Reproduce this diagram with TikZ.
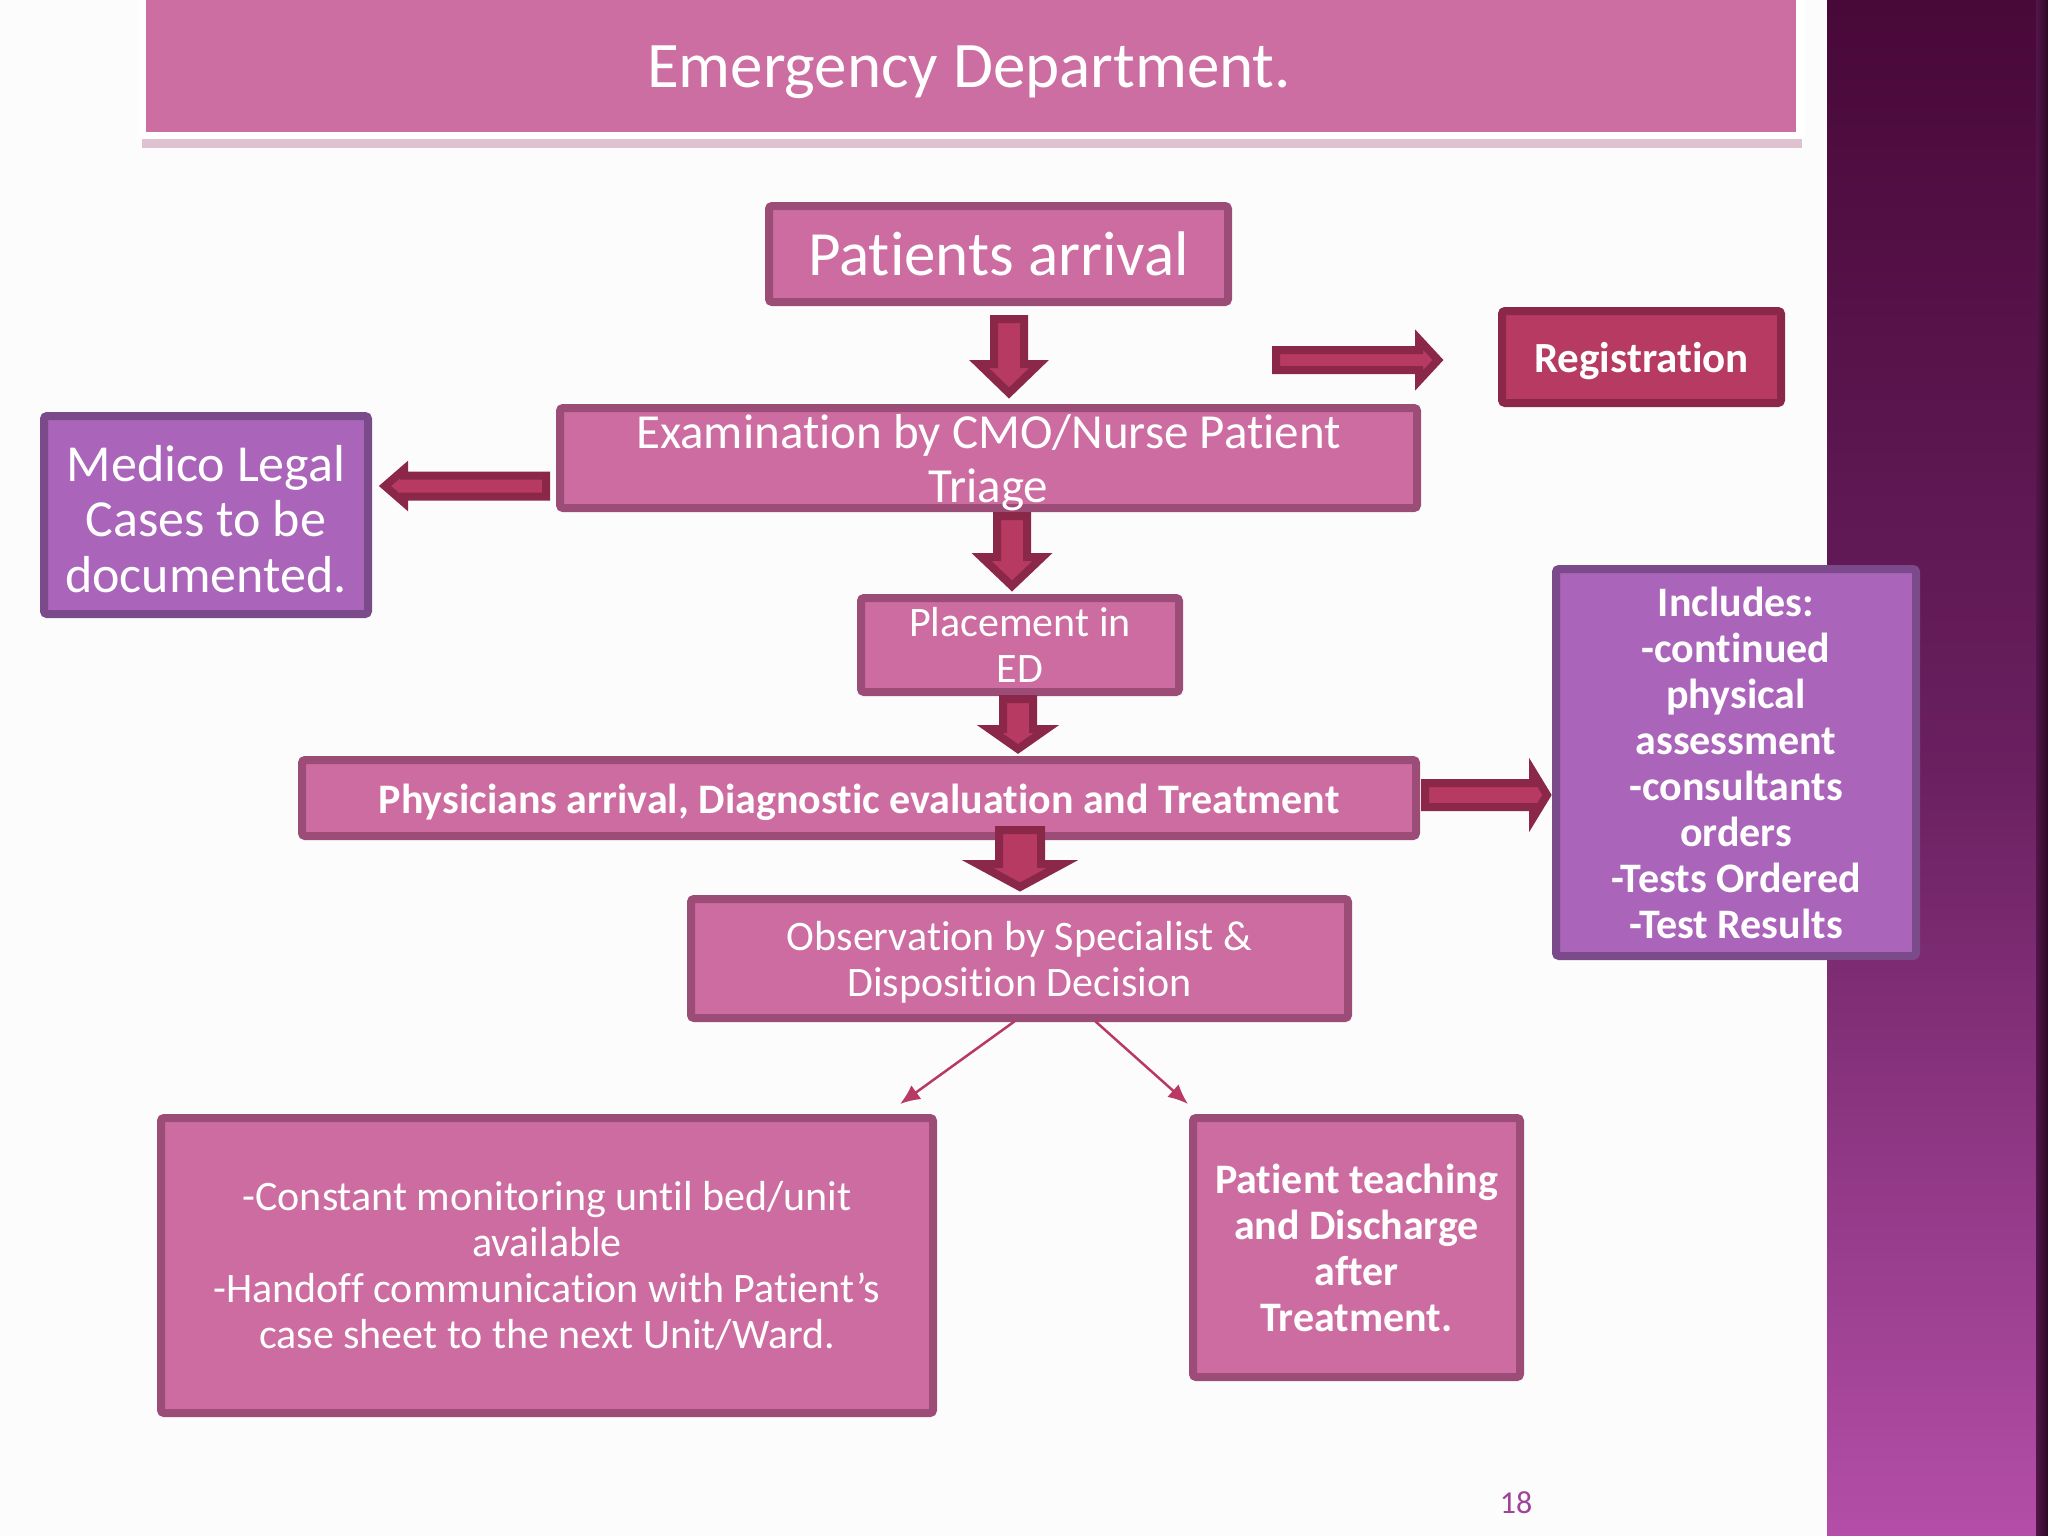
\documentclass[tikz,border=0pt]{standalone}
\usepackage{fontspec}
\setmainfont{Carlito}[RawFeature={-liga;-clig;-calt;-rlig;-dlig}]
\usetikzlibrary{arrows.meta,calc}
\definecolor{pinkF}{RGB}{205,108,160}
\definecolor{pinkB}{RGB}{155,77,120}
\definecolor{purpF}{RGB}{170,100,185}
\definecolor{purpB}{RGB}{122,74,138}
\definecolor{regF}{RGB}{183,58,98}
\definecolor{regB}{RGB}{139,40,74}
\definecolor{arrF}{RGB}{183,58,98}
\definecolor{arrB}{RGB}{139,40,74}
\definecolor{titleF}{RGB}{204,110,162}
\definecolor{thinA}{RGB}{184,58,100}
\definecolor{bandTop}{RGB}{72,8,56}
\definecolor{bandMid}{RGB}{106,32,96}
\definecolor{bandBot}{RGB}{180,78,168}
\definecolor{bandEdge}{RGB}{45,8,38}
\definecolor{pageNum}{RGB}{160,68,154}
\definecolor{shadowC}{RGB}{222,194,208}
\definecolor{slideW}{RGB}{253,252,253}
\newcommand\fsz[2]{\fontsize{#1}{#2}\selectfont}
% #1 tail coordinate, #2 rotation, #3 outer length, #4 outer shaft, #5 outer head width, #6 outer head length
\newcommand\blkarrow[6]{%
  \begin{scope}[shift={(#1)},rotate=#2]
    \draw[blockarr] (4,{-(#4-8)/2}) -- ({#3-#6+4},{-(#4-8)/2}) -- ({#3-#6+4},{-(#5-19)/2})
      -- ({#3-6},0) -- ({#3-#6+4},{(#5-19)/2}) -- ({#3-#6+4},{(#4-8)/2}) -- (4,{(#4-8)/2}) -- cycle;
  \end{scope}}
\begin{document}
\begin{tikzpicture}[x=1pt,y=-1pt,
  box/.style={line width=8pt, rounded corners=3pt, inner sep=0pt, align=center, text=white},
  pinkbox/.style={box, draw=pinkB, fill=pinkF},
  purpbox/.style={box, draw=purpB, fill=purpF},
  regbox/.style={box, draw=regB, fill=regF},
  boxtext/.style={inner sep=0pt, align=center, text=white},
  blockarr/.style={draw=arrB, fill=arrF, line width=8pt, line join=miter, miter limit=10},
  thinarr/.style={draw=thinA, line width=2.5pt, -{Latex[length=20pt,width=17pt]}},
  body/.style={font=\fsz{42}{46}},
  bodyb/.style={font=\fsz{42}{46}\bfseries},
]
\useasboundingbox (0,0) rectangle (2048,1536);
\fill[slideW] (0,0) rectangle (2048,1536);
% right band
\shade[top color=bandTop, bottom color=bandBot, middle color=bandMid] (1827,0) rectangle (2048,1536);
\shade[left color=bandMid!60!bandEdge, right color=bandEdge] (2036,0) rectangle (2048,1536);
% title banner
\fill[shadowC] (142,139) rectangle (1802,148);
\fill[white] (138,-5) rectangle (1805,139);
\fill[titleF] (146,-5) rectangle (1796,132);
\node[anchor=base, text=white, font=\fsz{65}{70}] (title) at (969,88) {Emergency Department.};

% boxes
\node[pinkbox, minimum width=459, minimum height=96, font=\fsz{63}{68}] (arrival) at (998.5,254) {Patients arrival};
\node[regbox, minimum width=279, minimum height=92] (reg) at (1641.5,357) {};
\node[boxtext, font=\fsz{43}{46}\bfseries] (regT) at ($(reg.center)+(0,4)$) {Registration};
\node[pinkbox, minimum width=857, minimum height=100] (exam) at (988.5,458) {};
\node[boxtext, font=\fsz{49}{54}] (examT) at ($(exam.center)+(0,5)$) {Examination by CMO/Nurse Patient\\Triage};
\node[purpbox, minimum width=324, minimum height=198] (medico) at (206,515) {};
\node[boxtext, font=\fsz{52}{55.5}] (medicoT) at ($(medico.center)+(0,4)$) {Medico Legal\\Cases to be\\documented.};
\node[pinkbox, minimum width=318, minimum height=94, body] (place) at (1020,645) {Placement in\\ED};
\node[pinkbox, minimum width=1114, minimum height=76] (phys) at (859,798) {};
\node[boxtext, bodyb] (physT) at ($(phys.center)+(0,4)$) {Physicians arrival, Diagnostic evaluation and Treatment};
\node[purpbox, minimum width=360, minimum height=387, bodyb] (incl) at (1736,762.5) {Includes:\\-continued\\physical\\assessment\\-consultants\\orders\\-Tests Ordered\\-Test Results};
\node[pinkbox, minimum width=657, minimum height=119] (obs) at (1019.5,958.5) {};
\node[boxtext, body] (obsT) at ($(obs.center)+(0,4)$) {Observation by Specialist \&\\Disposition Decision};
\node[pinkbox, minimum width=772, minimum height=295, body] (mon) at (547,1265.5) {-Constant monitoring until bed/unit\\available\\-Handoff communication with Patient’s\\case sheet to the next Unit/Ward.};
\node[pinkbox, minimum width=327, minimum height=259, bodyb] (teach) at (1356.5,1247.5) {Patient teaching\\and Discharge\\after\\Treatment.};

% block arrows
\coordinate (a1) at (1009,315);
\coordinate (a2) at (1012,512);
\coordinate (a3) at (1018,695);
\coordinate (a4) at (1020,826);
\coordinate (a5) at (1272,360);
\coordinate (a6) at (550,486);
\coordinate (a7) at (1421,795);
\blkarrow{a1}{-90}{84}{38}{79}{39}
\blkarrow{a2}{-90}{80}{38}{80}{39}
\blkarrow{a3}{-90}{60}{38}{76}{30}
\blkarrow{a4}{-90}{67}{50}{104}{33}
\blkarrow{a5}{0}{172}{28}{60}{29}
\blkarrow{a6}{180}{171}{29}{52}{29}
\blkarrow{a7}{0}{132}{32}{65}{24}

% thin arrows
\coordinate (d1s) at (1015,1021);
\coordinate (d1e) at (900,1104);
\coordinate (d2s) at (1095,1021);
\coordinate (d2e) at (1188,1104);
\draw[thinarr] (d1s) -- (d1e);
\draw[thinarr] (d2s) -- (d2e);

\node[anchor=base, text=pageNum, font=\fsz{32}{36}] (pg) at (1516,1513) {18};
\end{tikzpicture}
\end{document}
